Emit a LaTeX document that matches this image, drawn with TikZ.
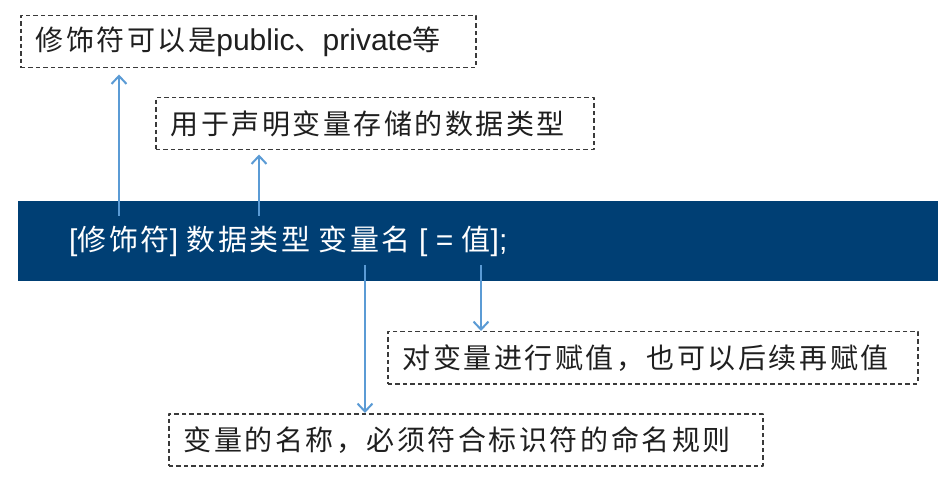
\documentclass[tikz,border=0pt]{standalone}
\usepackage{fontspec}
\newfontfamily\cjk{Noto Sans CJK SC}[LetterSpace=9]
\newfontfamily\lat{Liberation Sans}
\newcommand{\en}[1]{{\lat\fontsize{30}{32}\selectfont #1}}
\usetikzlibrary{arrows.meta}
\definecolor{barblue}{HTML}{003F74}
\definecolor{arrowblue}{HTML}{5B9BD5}
\definecolor{boxgray}{HTML}{3A3A3A}
\begin{document}
\begin{tikzpicture}[x=1pt,y=-1pt,line join=round,
 font=\cjk\fontsize{28}{32}\selectfont,
 note/.style={draw=boxgray,line width=1.5pt,dash pattern=on 4.5pt off 3pt,
  anchor=north west,minimum height=52pt,inner xsep=15pt,inner ysep=0pt,
  align=left,text=black!88},
 link/.style={draw=arrowblue,line width=2pt,
  -{Straight Barb[length=8pt,width=15pt]}}]
\useasboundingbox (0,0) rectangle (938,489);
% declaration bar
\node[fill=barblue,anchor=north west,minimum width=920pt,minimum height=80pt,
 inner sep=0pt] (bar) at (18,200.5) {};
\node[text=white,anchor=west,inner sep=0pt,font=\cjk\fontsize{29}{32}\selectfont]
 (decl) at (69,241)
 {\en{[}修饰符\en{] }数据类型\en{ }变量名\en{ [ = }值\en{];}};
% notes
\node[note,text width=425pt] (mod) at (20,15) {修饰符可以是\en{public}、\en{private}等};
\node[note,text width=408pt] (type) at (155,97) {用于声明变量存储的数据类型};
\node[note,text width=500pt] (init) at (387,331) {对变量进行赋值，也可以后续再赋值};
\node[note,text width=564pt] (name) at (168,413) {变量的名称，必须符合标识符的命名规则};
% arrows
\coordinate (p1) at (119,216);
\coordinate (p2) at (259,216);
\coordinate (p3) at (365,265);
\coordinate (p4) at (481,265);
\draw[link,shorten >=6pt] (p1) -- (p1 |- mod.south);
\draw[link,shorten >=4pt] (p2) -- (p2 |- type.south);
\draw[link] (p3) -- (p3 |- name.north);
\draw[link] (p4) -- (p4 |- init.north);
\end{tikzpicture}
\end{document}
